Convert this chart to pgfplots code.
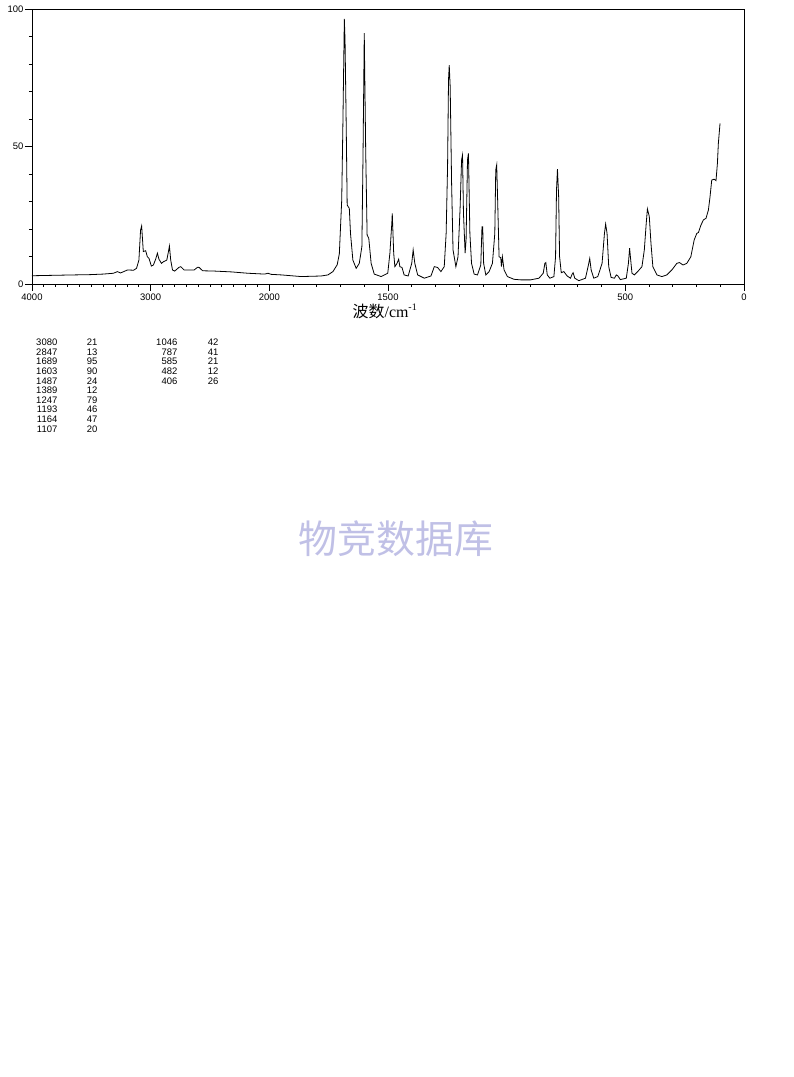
\documentclass[border=0pt]{standalone}
\usepackage{fontspec}
\setmainfont{Liberation Sans}
\newfontfamily\cjk{Noto Sans CJK SC}
\newfontfamily\serif{Liberation Serif}
\usepackage{pgfplots}
\usepackage{pgfplotstable}
\pgfplotsset{compat=1.18}

% Raman spectrum, wavenumber (cm^-1) vs intensity
\pgfplotstableread{
w     I
4000  3.0
3880  3.1
3763  3.2
3640  3.3
3508  3.4
3400  3.6
3314  3.9
3280  4.5
3254  4.0
3195  5.1
3144  5.0
3119  5.7
3099  8.7
3085  19.6
3076  21.1
3062  11.8
3042  12.1
3028  9.9
3014  9.3
2994  6.5
2977  6.9
2958  9.0
2943  11.2
2930  9.0
2909  7.5
2892  8.1
2864  8.7
2850  11.8
2842  13.8
2831  8.7
2816  5.1
2797  4.7
2760  6.1
2746  6.3
2718  5.1
2633  5.1
2604  6.1
2591  6.0
2562  4.8
2466  4.7
2322  4.4
2180  3.9
2040  3.6
2011  3.9
1992  3.5
1950  3.3
1866  2.7
1782  2.9
1753  3.3
1732  4.5
1714  7.0
1705  11.0
1695  30.5
1690  58.4
1684  96.4
1681  88.7
1676  57.2
1672  28.7
1663  27.5
1658  18.4
1648  8.7
1634  5.7
1621  7.5
1610  13.6
1605  48.7
1600  91.2
1594  48.7
1588  17.8
1581  16.6
1571  7.5
1558  3.6
1529  2.7
1501  3.9
1492  11.2
1484  22.0
1482  25.7
1476  11.2
1471  6.3
1462  7.5
1455  9.0
1450  6.3
1441  6.0
1432  3.3
1415  2.9
1400  7.5
1394  12.4
1387  7.5
1375  3.3
1347  2.1
1319  2.9
1305  6.3
1291  6.0
1277  4.5
1263  6.3
1255  18.4
1249  42.7
1245  74.2
1242  79.6
1238  71.8
1232  36.6
1226  12.4
1214  6.3
1205  9.9
1196  28.1
1190  45.1
1186  46.9
1182  25.7
1175  11.2
1171  16.0
1165  45.1
1161  47.5
1155  18.4
1148  7.5
1137  3.6
1123  3.3
1109  6.9
1104  20.8
1101  20.8
1097  7.5
1088  3.3
1074  4.5
1060  7.5
1050  18.4
1046  41.5
1042  43.3
1038  30.5
1032  9.9
1025  9.6
1022  6.3
1018  9.9
1011  5.1
997   2.7
969   1.7
941   1.5
899   1.5
864   2.1
846   3.9
839   7.5
835   7.8
829   3.3
818   2.1
801   2.7
794   9.9
790   34.2
786   41.8
781   31.8
777   9.9
770   4.1
759   4.5
745   2.9
731   2.1
724   3.6
720   4.1
713   2.1
696   1.2
668   2.1
657   6.3
650   9.3
644   5.1
633   2.1
616   2.7
598   7.5
588   18.4
583   21.8
577   18.4
570   6.3
560   2.4
546   2.1
538   3.3
532   3.0
521   1.6
496   2.1
487   7.5
482   13.0
476   7.5
472   3.9
462   3.3
448   4.5
430   6.3
420   12.4
412   22.0
407   27.3
399   24.5
392   14.8
384   6.3
367   3.3
346   2.7
325   3.3
304   5.1
283   7.5
272   7.8
257   6.9
241   7.5
224   9.9
210   16.0
199   18.4
192   18.7
181   21.5
171   23.3
160   23.9
150   26.9
143   31.8
136   37.8
126   38.1
118   37.6
112   43.9
108   51.2
101   58.4
}\spectrum

\begin{document}
\begin{tikzpicture}[x=1bp,y=1bp]
\path[use as bounding box] (0,0) rectangle (794,1077);

\begin{axis}[
    at={(32bp,793bp)}, anchor=south west,
    width=712bp, height=275bp, scale only axis,
    x dir=reverse,
    xmin=0, xmax=3000, ymin=0, ymax=100,
    % 4000-2000 cm-1 is drawn at half scale
    x filter/.expression={x>2000 ? 2000+(x-2000)/2 : x},
    xtick={0,500,1500,2000,2500,3000},
    xticklabels={0,500,1500,2000,3000,4000},
    minor xtick={100,200,...,1900,2050,2100,...,2950},
    ytick={0,50,100},
    minor ytick={10,20,30,40,60,70,80,90},
    tick pos=left, tick align=outside,
    major tick length=7bp, minor tick length=3bp,
    every tick/.style={black, line width=0.8bp},
    axis line style={line width=0.8bp},
    tick label style={font=\fontsize{9.5}{10}\selectfont},
    /pgf/number format/assume math mode=true,
    xticklabel style={inner sep=2.5bp},
    yticklabel style={inner sep=1.5bp},
  ]
  \addplot[black, line width=0.8bp] table[x=w, y=I] {\spectrum};
\end{axis}

\node at (385,766) {\fontsize{16}{17}\selectfont\cjk 波数\serif/cm\textsuperscript{\fontsize{10}{10}\selectfont -1}};

\foreach \w/\v [count=\i from 0] in {3080/21,2847/13,1689/95,1603/90,1487/24,1389/12,1247/79,1193/46,1164/47,1107/20}
  \node[anchor=east, inner sep=0pt, font=\fontsize{9.5}{10}\selectfont]
    at (57.5, 734.5-9.6*\i) {\w}
    node[anchor=east, inner sep=0pt, font=\fontsize{9.5}{10}\selectfont]
    at (97.5, 734.5-9.6*\i) {\v};
\foreach \w/\v [count=\i from 0] in {1046/42,787/41,585/21,482/12,406/26}
  \node[anchor=east, inner sep=0pt, font=\fontsize{9.5}{10}\selectfont]
    at (177.5, 734.5-9.6*\i) {\w}
    node[anchor=east, inner sep=0pt, font=\fontsize{9.5}{10}\selectfont]
    at (218.5, 734.5-9.6*\i) {\v};

\definecolor{wmark}{RGB}{192,192,230}
\node[text=wmark, font=\cjk\fontsize{39}{40}\selectfont] at (396,538.5) {物竞数据库};
\end{tikzpicture}
\end{document}
